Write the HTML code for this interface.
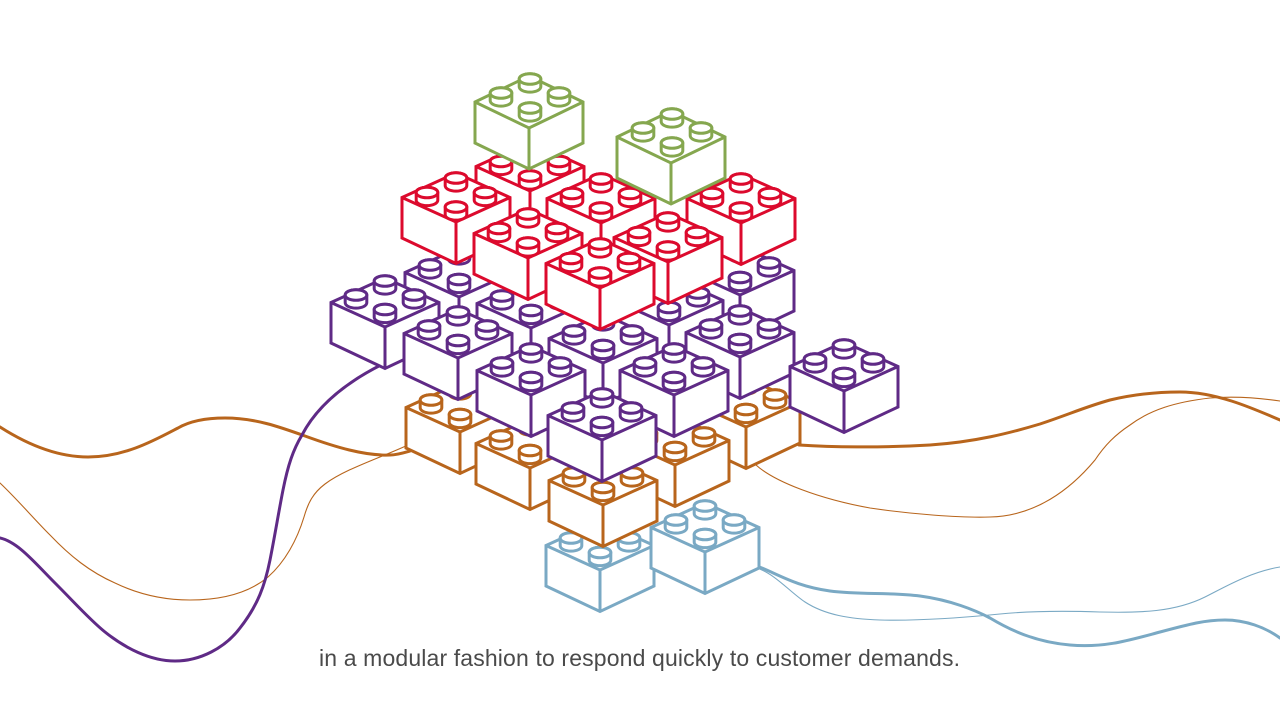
<!DOCTYPE html>
<html lang="en">
<head>
<meta charset="utf-8">
<title>Modular bricks</title>
<style>
html,body{margin:0;padding:0;background:#fff;width:1280px;height:720px;overflow:hidden}
svg{display:block}
</style>
</head>
<body>
<svg width="1280" height="720" viewBox="0 0 1280 720" xmlns="http://www.w3.org/2000/svg">
<defs>
<g id="s">
<path d="M-10.8,0 V7.8 A10.8,5.3 0 0 0 10.8,7.8 V0 A10.8,5.3 0 0 0 -10.8,0 Z"/>
<ellipse cx="0" cy="0" rx="10.8" ry="5.3"/>
</g>
<g id="g">
<path d="M-54,-26 L0,-52 L54,-26 V15 L0,41 L-54,15 Z"/>
<path d="M-54,-26 L0,0 L54,-26 M0,0 V41" fill="none"/>
<use href="#s" x="1" y="-49"/>
<use href="#s" x="-28" y="-35"/>
<use href="#s" x="30" y="-35"/>
<use href="#s" x="1" y="-20"/>
</g>
<g id="b">
<path d="M-54,-24.5 L0,-49 L54,-24.5 V16 L0,41.5 L-54,16 Z"/>
<path d="M-54,-24.5 L0,0 L54,-24.5 M0,0 V41.5" fill="none"/>
<use href="#s" x="0" y="-46"/>
<use href="#s" x="-29" y="-32"/>
<use href="#s" x="29" y="-32"/>
<use href="#s" x="0" y="-17.5"/>
</g>
<g id="r">
<path d="M-54,-24.5 L0,-49 L54,-24.5 V16 L0,41.5 L-54,16 Z"/>
<path d="M-54,-24.5 L0,0 L54,-24.5 M0,0 V41.5" fill="none"/>
<use href="#s" x="0" y="-44"/>
<use href="#s" x="-29" y="-29.5"/>
<use href="#s" x="29" y="-29.5"/>
<use href="#s" x="0" y="-15"/>
</g>
</defs>

<rect width="1280" height="720" fill="#fff"/>

<!-- Curves -->
<g fill="none" stroke-linecap="round">
<g stroke="#b8651c">
<path stroke-width="3" d="M0,427 C25,443 55,457 88,457 C125,457 155,440 178,428 C190,421 205,418 225,418 C255,418 280,427 305,436 C335,447 365,456 390,455 C397,455 403,453 410,451"/>
<path stroke-width="1.1" d="M0,483 C17,499 33,518 50,535 C70,556 90,572 115,583 C140,595 165,600 190,600 C225,600 250,592 268,577 C285,562 297,540 304,517 C308,503 313,493 325,484 C345,469 380,458 408,445"/>
<path stroke-width="3" d="M799,445 C830,447 880,448 930,445 C975,442 1010,433 1040,424 C1070,414 1085,407 1110,400 C1135,394 1160,392 1180,392 C1215,392 1250,407 1280,420"/>
<path stroke-width="1.1" d="M756,465 C775,482 820,499 870,508 C910,514 960,518 990,517 C1035,516 1070,490 1095,460 C1105,445 1115,435 1130,425 C1150,410 1175,402 1210,398 C1235,396 1260,398 1280,401"/>
</g>
<path stroke="#5f2a86" stroke-width="3" d="M0,538 C18,542 35,563 55,583 C75,603 90,620 105,632 C125,648 150,661 175,661 C200,661 225,648 240,628 C258,605 265,585 270,560 C275,535 279,510 283,490 C288,465 293,450 302,435 C315,410 340,385 385,363"/>
<g stroke="#7aa9c4">
<path stroke-width="3" d="M757,566 C780,575 795,586 830,591 C860,595 890,592 920,596 C950,600 975,610 990,618 C1010,630 1035,642 1070,645 C1105,648 1130,640 1160,632 C1190,624 1205,620 1225,620 C1245,620 1265,627 1280,638"/>
<path stroke-width="1.1" d="M757,568 C775,574 790,592 805,602 C825,615 850,619 880,620 C920,621 960,618 1000,614 C1030,611 1070,611 1100,612 C1140,613 1175,612 1205,597 C1225,587 1250,572 1280,567"/>
</g>
</g>

<!-- Bricks -->
<g fill="#fff" stroke-width="3" stroke-linejoin="miter">
<g stroke="#7aa9c4">
<use href="#b" x="600" y="570"/>
<use href="#b" x="705" y="552"/>
</g>
<g stroke="#b8651c">
<use href="#b" x="603" y="428"/>
<use href="#b" x="746" y="427"/>
<use href="#b" x="460" y="432"/>
<use href="#b" x="675" y="465"/>
<use href="#b" x="530" y="468"/>
<use href="#b" x="603" y="505"/>
</g>
<g stroke="#5f2a86">
<use href="#b" x="740" y="295"/>
<use href="#b" x="459" y="297"/>
<use href="#b" x="669" y="325"/>
<use href="#b" x="385" y="327"/>
<use href="#b" x="531" y="328"/>
<use href="#b" x="740" y="357"/>
<use href="#b" x="458" y="358"/>
<use href="#b" x="603" y="363"/>
<use href="#b" x="844" y="391"/>
<use href="#b" x="674" y="395"/>
<use href="#b" x="531" y="395"/>
<use href="#b" x="602" y="440"/>
</g>
<g stroke="#dc0a2d">
<use href="#r" x="530" y="191"/>
<use href="#r" x="456" y="222"/>
<use href="#r" x="601" y="223"/>
<use href="#r" x="741" y="223"/>
<use href="#r" x="528" y="258"/>
<use href="#r" x="668" y="262"/>
<use href="#r" x="600" y="288"/>
</g>
<g stroke="#85a74f">
<use href="#g" x="529" y="128"/>
<use href="#g" x="671" y="163"/>
</g>
</g>

<text x="319" y="666" font-family="'Liberation Sans', sans-serif" font-size="23" fill="#4a4a4a" textLength="641" lengthAdjust="spacing">in a modular fashion to respond quickly to customer demands.</text>
</svg>
</body>
</html>
